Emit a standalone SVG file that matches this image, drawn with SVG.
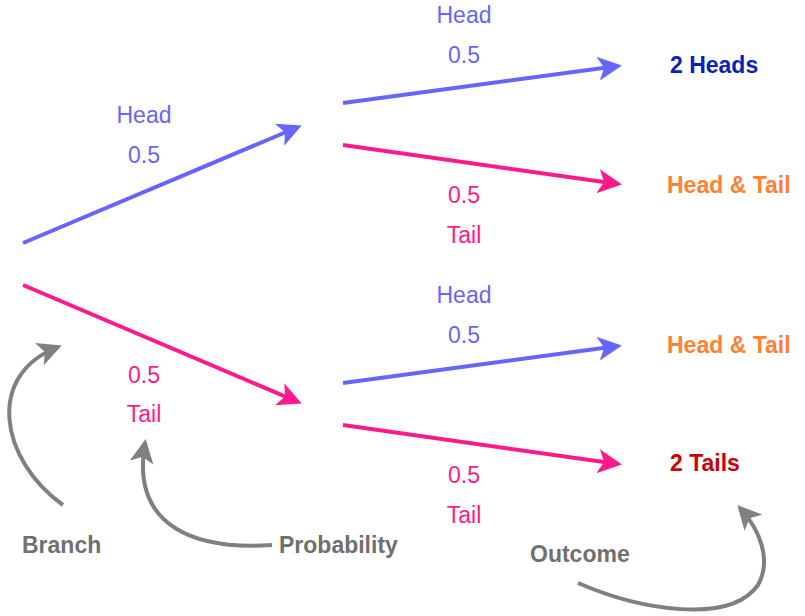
<svg xmlns="http://www.w3.org/2000/svg" width="805" height="616" viewBox="0 0 805 616">
<style>
text{font-family:"Liberation Sans",Arial,sans-serif;font-size:23px;text-anchor:middle;dominant-baseline:central}
.b{fill:#6666FF}.p{fill:#FF1A8C}.g{fill:#707070;font-weight:bold;text-anchor:start}
.o{font-weight:bold;text-anchor:start}
.lb{stroke:#6666FF;stroke-width:4;fill:none;marker-end:url(#mb)}
.lp{stroke:#FF1A8C;stroke-width:4;fill:none;marker-end:url(#mp)}
.lg{stroke:#808080;stroke-width:4;fill:none;marker-end:url(#mg)}
</style>
<defs>
<marker id="mb" markerWidth="6" markerHeight="6" refX="5" refY="3" orient="auto" markerUnits="strokeWidth"><path d="M0,0 L6,3 L0,6 L1.5,3 Z" fill="#6666FF"/></marker>
<marker id="mp" markerWidth="6" markerHeight="6" refX="5" refY="3" orient="auto" markerUnits="strokeWidth"><path d="M0,0 L6,3 L0,6 L1.5,3 Z" fill="#FF1A8C"/></marker>
<marker id="mg" markerWidth="6" markerHeight="6" refX="5" refY="3" orient="auto" markerUnits="strokeWidth"><path d="M0,0 L6,3 L0,6 L1.5,3 Z" fill="#808080"/></marker>
</defs>
<rect width="805" height="616" fill="#fff"/>
<g id="connectors">
<path class="lb" d="M23,243 L298,127"/>
<path class="lp" d="M23,285 L298,402"/>
<path class="lb" d="M343,103 L618,66"/>
<path class="lp" d="M343,145 L618,184"/>
<path class="lb" d="M343,383 L618,346"/>
<path class="lp" d="M343,425 L618,464"/>
<path class="lg" d="M63,505 C0,460 -15,375 58,347"/>
<path class="lg" d="M272,545 C200,550 130,530 145,443"/>
<path class="lg" d="M578,583 C640,610 730,625 758,585 C772,560 760,530 740,508"/>
</g>
<g id="l1"><text class="b" x="144" y="115">Head</text><text class="b" x="144" y="155">0.5</text></g>
<g id="l2"><text class="p" x="144" y="375">0.5</text><text class="p" x="144" y="414">Tail</text></g>
<g id="l3"><text class="b" x="464" y="15">Head</text><text class="b" x="464" y="55">0.5</text></g>
<g id="l4"><text class="p" x="464" y="195">0.5</text><text class="p" x="464" y="235">Tail</text></g>
<g id="l5"><text class="b" x="464" y="295">Head</text><text class="b" x="464" y="335">0.5</text></g>
<g id="l6"><text class="p" x="464" y="475">0.5</text><text class="p" x="464" y="515">Tail</text></g>
<g id="o1"><text class="o" x="670" y="65" fill="#0A1FBF">2 Heads</text></g>
<g id="o2"><text class="o" x="667" y="185" fill="#FF8033">Head &amp; Tail</text></g>
<g id="o3"><text class="o" x="667" y="345" fill="#FF8033">Head &amp; Tail</text></g>
<g id="o4"><text class="o" x="670" y="463" fill="#CC0000">2 Tails</text></g>
<g id="branch"><text class="g" x="22" y="545">Branch</text></g>
<g id="prob"><text class="g" x="279" y="545">Probability</text></g>
<g id="outcome"><text class="g" x="530" y="554">Outcome</text></g>
</svg>
